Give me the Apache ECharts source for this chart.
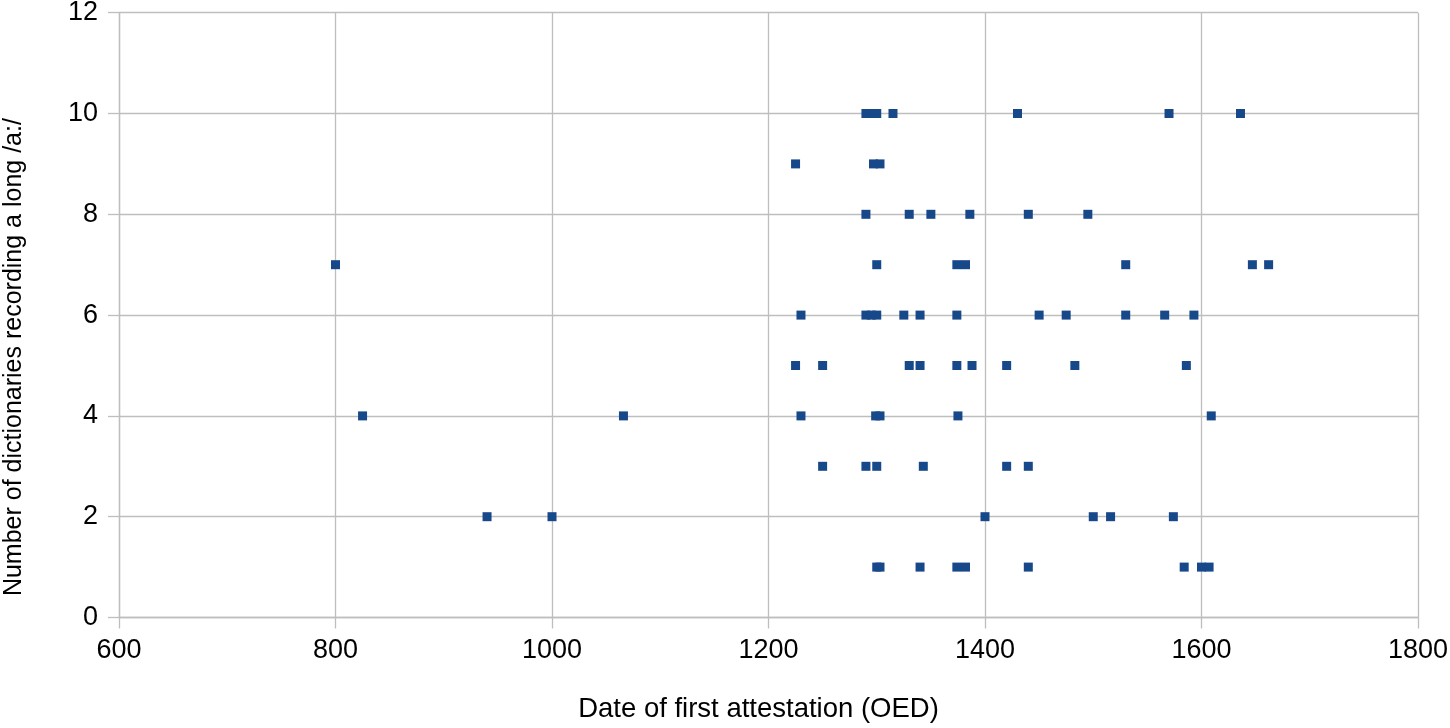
<!DOCTYPE html>
<html>
<head>
<meta charset="utf-8">
<script src="https://cdn.jsdelivr.net/npm/echarts@6/dist/echarts.min.js"></script>
<style>
html,body{margin:0;padding:0;background:#fff;}
#chart{width:1450px;height:728px;}
</style>
</head>
<body>
<div id="chart"></div>
<script>
// Date of first attestation (OED) for each word
const years = [
  1290, 1296, 1300, 1315, 1430, 1570, 1636,
  1225, 1297, 1303,
  1290, 1330, 1350, 1386, 1440, 1495,
  800, 1300, 1374, 1382, 1530, 1647, 1662,
  1230, 1290, 1295, 1300, 1325, 1340, 1374, 1450, 1475, 1530, 1566, 1593,
  1225, 1250, 1330, 1340, 1374, 1388, 1420, 1483, 1586,
  825, 1066, 1230, 1299, 1303, 1375, 1609,
  1250, 1290, 1300, 1343, 1420, 1440,
  940, 1000, 1400, 1500, 1516, 1574,
  1300, 1303, 1340, 1374, 1382, 1440, 1584, 1600, 1607
];
// Number of dictionaries recording a long /a:/
const counts = [
  10, 10, 10, 10, 10, 10, 10,
  9, 9, 9,
  8, 8, 8, 8, 8, 8,
  7, 7, 7, 7, 7, 7, 7,
  6, 6, 6, 6, 6, 6, 6, 6, 6, 6, 6, 6,
  5, 5, 5, 5, 5, 5, 5, 5, 5,
  4, 4, 4, 4, 4, 4, 4,
  3, 3, 3, 3, 3, 3,
  2, 2, 2, 2, 2, 2,
  1, 1, 1, 1, 1, 1, 1, 1, 1
];
const xTitle = 'Date of first attestation (OED)';
const yTitle = 'Number of dictionaries recording a long /a:/';

const points = years.map((y, i) => [y, counts[i]]);
const gridColor = '#bebebe';
const font = 'Liberation Sans, Arial, sans-serif';

const chart = echarts.init(document.getElementById('chart'), null, {renderer: 'canvas'});
chart.setOption({
  animation: false,
  backgroundColor: '#ffffff',
  grid: {left: 119, right: 32, top: 12.7, bottom: 110.5, containLabel: false, outerBoundsMode: 'none'},
  xAxis: {
    type: 'value', min: 600, max: 1800, interval: 200,
    name: xTitle, nameLocation: 'middle', nameGap: 78,
    nameTextStyle: {fontFamily: font, fontSize: 27.5, color: '#000', padding: [0, 20, 0, 0]},
    axisLine: {show: true, lineStyle: {color: gridColor, width: 1.3}},
    axisTick: {show: true, inside: false, length: 11, lineStyle: {color: gridColor, width: 1.3}},
    axisLabel: {fontFamily: font, fontSize: 27, color: '#000', margin: 20, formatter: v => String(v)},
    splitLine: {show: true, lineStyle: {color: gridColor, width: 1.3}}
  },
  yAxis: {
    type: 'value', min: 0, max: 12, interval: 2,
    name: yTitle, nameLocation: 'middle', nameGap: 92, nameRotate: 90,
    nameTextStyle: {fontFamily: font, fontSize: 25, color: '#000', padding: [0, 84, 0, 0]},
    axisLine: {show: true, lineStyle: {color: gridColor, width: 1.3}},
    axisTick: {show: true, inside: false, length: 11, lineStyle: {color: gridColor, width: 1.3}},
    axisLabel: {fontFamily: font, fontSize: 27, color: '#000', margin: 21, formatter: v => String(v)},
    splitLine: {show: true, lineStyle: {color: gridColor, width: 1.3}}
  },
  series: [{
    type: 'scatter',
    symbol: 'rect',
    symbolSize: 9,
    itemStyle: {color: '#17488a', opacity: 1},
    data: points
  }]
});
</script>
</body>
</html>
